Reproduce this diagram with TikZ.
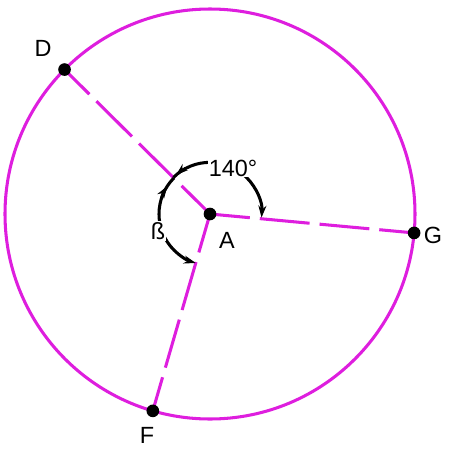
\documentclass[tikz,border=0pt]{standalone}
\usepackage{fontspec}
\setmainfont{Liberation Sans}
\usetikzlibrary{arrows.meta,calc}
\definecolor{mag}{RGB}{222,30,222}
\begin{document}
\begin{tikzpicture}[
  circ/.style={draw=mag,line width=2.6pt},
  spoke/.style={draw=mag,line width=2.6pt,dash pattern=on 1.5cm off 0.3cm,dash phase=0.3cm},
  dot/.style={circle,fill=black,inner sep=0pt,minimum size=0.38cm},
  arcline/.style={draw=black,line width=2.6pt},
  tip/.style={-{Stealth[length=0.36cm,width=0.24cm]}},
  lbl/.style={font=\fontsize{20}{24}\selectfont,inner sep=1pt},
]
\useasboundingbox (0,0) rectangle (13.5,-13.5);
\coordinate (cA) at (6.3,-6.42);
\path (cA) ++(135.2:6.15) coordinate (cD);
\path (cA) ++(-5.3:6.15) coordinate (cG);
\path (cA) ++(253.8:6.15) coordinate (cF);
% circle
\draw[circ] (cA) circle[radius=6.15cm];
% spokes
\draw[spoke] (cA) -- (cD);
\draw[spoke] (cA) -- (cG);
\draw[spoke] (cA) -- (cF);
% angle arcs
\draw[arcline,tip] ($(cA)+(135:1.55)$) arc[start angle=135,end angle=-4,radius=1.55cm];
\draw[arcline,tip] ($(cA)+(118:1.55)$) arc[start angle=118,end angle=131,radius=1.55cm];
\draw[arcline,tip] ($(cA)+(135:1.53)$) arc[start angle=135,end angle=253.8,radius=1.53cm];
\draw[arcline,tip] ($(cA)+(162:1.53)$) arc[start angle=162,end angle=147,radius=1.53cm];
\node[lbl,fill=white] (t140) at (6.99,-5.04) {140°};
\node[lbl,fill=white] (tbeta) at (4.74,-6.93) {ß};
% dots
\node[dot] (A) at (cA) {};
\node[dot] (D) at (cD) {};
\node[dot] (G) at (cG) {};
\node[dot] (F) at (cF) {};
% labels
\node[lbl] (lD) at (1.29,-1.44) {D};
\node[lbl] (lG) at (12.99,-7.05) {G};
\node[lbl] (lF) at (4.41,-13.05) {F};
\node[lbl] (lA) at (6.81,-7.2) {A};
\end{tikzpicture}
\end{document}
